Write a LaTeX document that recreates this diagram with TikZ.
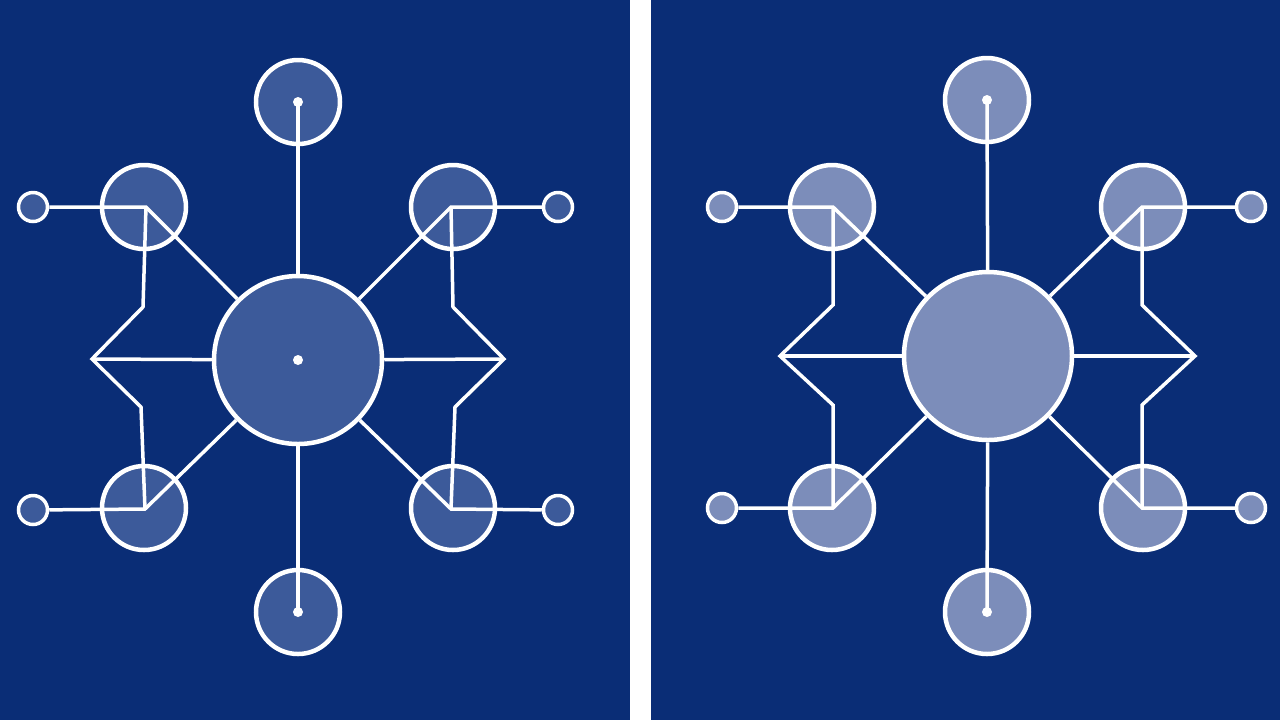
\documentclass[tikz,border=0pt]{standalone}
\usetikzlibrary{positioning}
\definecolor{navy}{RGB}{10,45,118}
\definecolor{hubdark}{RGB}{60,90,154}
\definecolor{hublight}{RGB}{124,141,186}
\begin{document}
\begin{tikzpicture}[x=0.1mm,y=-0.1mm,draw=white,
	hub/.style={circle, draw, line width=0.45mm, minimum size=16.8mm, inner sep=0pt},
	sat/.style={circle, draw, line width=0.45mm, minimum size=8.4mm, inner sep=0pt},
	leaf/.style={circle, draw, line width=0.35mm, minimum size=2.9mm, inner sep=0pt},
	dot/.style={circle, fill=white, minimum size=1mm, inner sep=0pt},
	wire/.style={line width=0.35mm}]
	\useasboundingbox (0,0) rectangle (1280,720);
	\fill[white] (0,0) rectangle (1280,720);
	\fill[navy] (0,0) rectangle (630,720);
	\fill[navy] (651,0) rectangle (1280,720);

	% left panel
	\node (C1) at (298, 360)	[hub, fill = hubdark]	{};
	\node (T1) at (298, 102)	[sat, fill = hubdark]	{};
	\node (B1) at (298, 612)	[sat, fill = hubdark]	{};
	\node (S1) at (144, 207)	[sat, fill = hubdark]	{};
	\node (S2) at (453, 207)	[sat, fill = hubdark]	{};
	\node (S3) at (144, 508)	[sat, fill = hubdark]	{};
	\node (S4) at (453, 508)	[sat, fill = hubdark]	{};
	\node (L1) at ( 33, 207)	[leaf, fill = hubdark]	{};
	\node (L2) at (558, 207)	[leaf, fill = hubdark]	{};
	\node (L3) at ( 33, 510)	[leaf, fill = hubdark]	{};
	\node (L4) at (558, 510)	[leaf, fill = hubdark]	{};
	\coordinate (a1) at (146, 207);
	\coordinate (a2) at (143, 307);
	\coordinate (a3) at ( 92, 359);
	\coordinate (a4) at (141, 407);
	\coordinate (a5) at (145, 509);
	\coordinate (b1) at (451, 207);
	\coordinate (b2) at (453, 307);
	\coordinate (b3) at (504, 359);
	\coordinate (b4) at (455, 407);
	\coordinate (b5) at (451, 509);
	\draw[wire] (L1) -- (a1) -- (C1);
	\draw[wire] (a1) -- (a2) -- (a3) -- (a4) -- (a5);
	\draw[wire] (a3) -- (C1);
	\draw[wire] (L3) -- (a5) -- (C1);
	\draw[wire] (L2) -- (b1) -- (C1);
	\draw[wire] (b1) -- (b2) -- (b3) -- (b4) -- (b5);
	\draw[wire] (b3) -- (C1);
	\draw[wire] (L4) -- (b5) -- (C1);
	\draw[wire] (T1.center) -- (C1);
	\draw[wire] (B1.center) -- (C1);
	\node (D1) at (C1.center)	[dot]	{};
	\node (D2) at (T1.center)	[dot]	{};
	\node (D3) at (B1.center)	[dot]	{};

	% right panel
	\node (C2) at (988, 356)	[hub, fill = hublight]	{};
	\node (T2) at (987, 100)	[sat, fill = hublight]	{};
	\node (B2) at (987, 612)	[sat, fill = hublight]	{};
	\node (S5) at (832, 207)	[sat, fill = hublight]	{};
	\node (S6) at (1143, 207)	[sat, fill = hublight]	{};
	\node (S7) at (832, 508)	[sat, fill = hublight]	{};
	\node (S8) at (1143, 508)	[sat, fill = hublight]	{};
	\node (L5) at (722, 207)	[leaf, fill = hublight]	{};
	\node (L6) at (1251, 207)	[leaf, fill = hublight]	{};
	\node (L7) at (722, 508)	[leaf, fill = hublight]	{};
	\node (L8) at (1251, 508)	[leaf, fill = hublight]	{};
	\coordinate (c1) at (833, 207);
	\coordinate (c2) at (833, 305);
	\coordinate (c3) at (780, 356);
	\coordinate (c4) at (833, 405);
	\coordinate (c5) at (833, 508);
	\coordinate (d1) at (1142, 207);
	\coordinate (d2) at (1142, 305);
	\coordinate (d3) at (1195, 356);
	\coordinate (d4) at (1142, 405);
	\coordinate (d5) at (1142, 508);
	\draw[wire] (L5) -- (c1) -- (C2);
	\draw[wire] (c1) -- (c2) -- (c3) -- (c4) -- (c5);
	\draw[wire] (c3) -- (C2);
	\draw[wire] (L7) -- (c5) -- (C2);
	\draw[wire] (L6) -- (d1) -- (C2);
	\draw[wire] (d1) -- (d2) -- (d3) -- (d4) -- (d5);
	\draw[wire] (d3) -- (C2);
	\draw[wire] (L8) -- (d5) -- (C2);
	\draw[wire] (T2.center) -- (C2);
	\draw[wire] (B2.center) -- (C2);
	\node (D4) at (T2.center)	[dot]	{};
	\node (D5) at (B2.center)	[dot]	{};
\end{tikzpicture}
\end{document}
